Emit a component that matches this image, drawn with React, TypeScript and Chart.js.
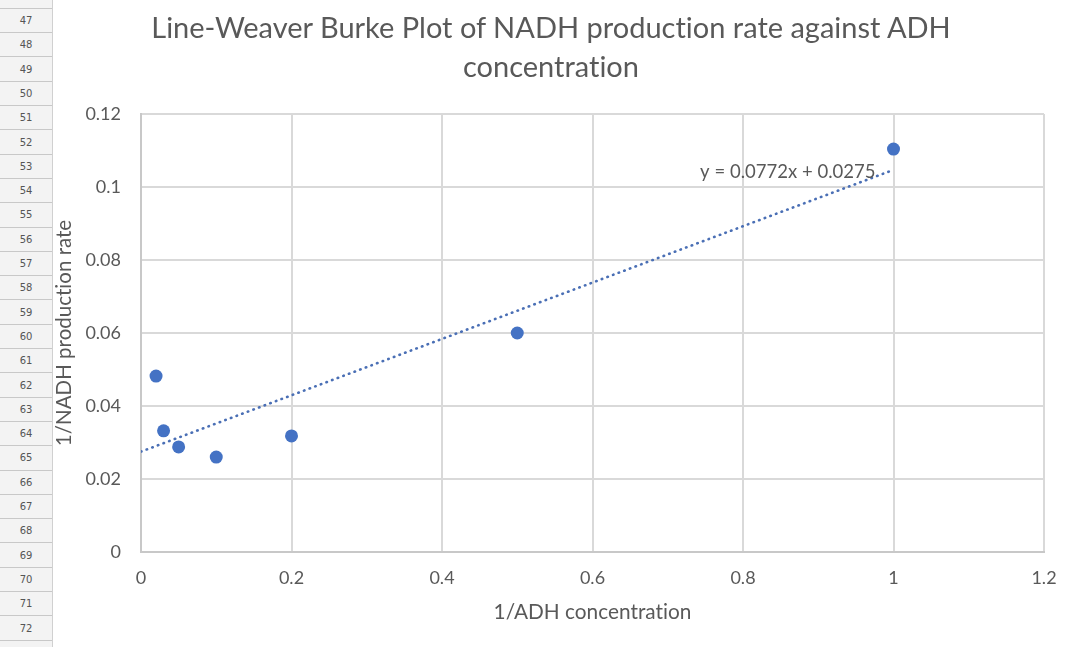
import React, { useEffect, useRef } from "react";
import { Chart, registerables } from "chart.js";

Chart.register(...registerables);

const titleLines = ["Line-Weaver Burke Plot of NADH production rate against ADH", "concentration"];
const xAxisTitle = "1/ADH concentration";
const yAxisTitle = "1/NADH production rate";

const adhInverse = [0.02, 0.03, 0.05, 0.1, 0.2, 0.5, 1];
const nadhInverse = [0.0482, 0.0332, 0.0288, 0.026, 0.0318, 0.06, 0.1104];

const trendSlope = 0.0772;
const trendIntercept = 0.0275;
const trendRange = [0, 1];
const trendLabel = "y = 0.0772x + 0.0275";

const xTickValues = [0, 0.2, 0.4, 0.6, 0.8, 1, 1.2];
const yTickValues = [0, 0.02, 0.04, 0.06, 0.08, 0.1, 0.12];

const rowNumbers = [46, 47, 48, 49, 50, 51, 52, 53, 54, 55, 56, 57, 58, 59, 60, 61, 62, 63, 64, 65, 66, 67, 68, 69, 70, 71, 72, 73];

const FONT = "Lato, 'Open Sans', sans-serif";
const TEXT = "#595959";
const GRID = "#d9d9d9";

const noLigaturePlugin = {
  id: "noLigature",
  beforeDraw(chart: any) {
    (chart.ctx as any).letterSpacing = "0.01px";
  },
};

const trendLabelPlugin = {
  id: "trendLabel",
  afterDatasetsDraw(chart: any) {
    const { ctx, scales } = chart;
    const xEnd = trendRange[1];
    const px = scales.x.getPixelForValue(xEnd);
    const py = scales.y.getPixelForValue(trendSlope * xEnd + trendIntercept);
    ctx.save();
    ctx.font = `18.5px ${FONT}`;
    ctx.fillStyle = TEXT;
    ctx.textAlign = "right";
    ctx.textBaseline = "middle";
    ctx.fillText(trendLabel, px - 18, py + 2);
    ctx.restore();
  },
};

export default function App() {
  const canvasRef = useRef<HTMLCanvasElement | null>(null);

  useEffect(() => {
    document.body.style.margin = "0";
    const canvas = canvasRef.current;
    if (!canvas) return;
    const chart = new Chart(canvas, {
      type: "scatter",
      data: {
        datasets: [
          {
            label: "Data",
            data: adhInverse.map((x, i) => ({ x, y: nadhInverse[i] })),
            backgroundColor: "#4472C4",
            borderColor: "#4472C4",
            pointRadius: 6.5,
            pointBorderWidth: 0,
            showLine: false,
            order: 1,
          },
          {
            label: "Trend",
            type: "line",
            data: trendRange.map((x) => ({ x, y: trendSlope * x + trendIntercept })),
            borderColor: "#4a6fb5",
            borderWidth: 2.6,
            borderDash: [0.5, 5.5],
            borderCapStyle: "round",
            pointRadius: 0,
            fill: false,
            order: 2,
          } as any,
        ],
      },
      options: {
        animation: false,
        responsive: false,
        maintainAspectRatio: false,
        layout: { padding: { top: 114, right: 36, bottom: 0, left: 0 } },
        plugins: {
          legend: { display: false },
          tooltip: { enabled: false },
          title: { display: false },
        },
        scales: {
          x: {
            type: "linear",
            min: 0,
            max: 1.2,
            afterBuildTicks: (scale: any) => {
              scale.ticks = xTickValues.map((v) => ({ value: v }));
            },
            afterFit: (scale: any) => {
              scale.height = 95;
            },
            ticks: {
              color: TEXT,
              font: { family: FONT, size: 18 },
              padding: 15,
              callback: (v: any) => String(Math.round(Number(v) * 10) / 10),
            },
            grid: { color: GRID, lineWidth: 2, drawTicks: false },
            border: { color: "#c8c8c8", width: 2 },
            title: {
              display: true,
              text: xAxisTitle,
              color: TEXT,
              font: { family: FONT, size: 20.8 },
              padding: { top: 8, bottom: 22 },
            },
          },
          y: {
            type: "linear",
            min: 0,
            max: 0.12,
            afterBuildTicks: (scale: any) => {
              scale.ticks = yTickValues.map((v) => ({ value: v }));
            },
            afterFit: (scale: any) => {
              scale.width = 89;
            },
            ticks: {
              color: TEXT,
              font: { family: FONT, size: 18 },
              padding: 20,
              callback: (v: any) => String(Math.round(Number(v) * 100) / 100),
            },
            grid: { color: GRID, lineWidth: 2, drawTicks: false },
            border: { color: "#c8c8c8", width: 2 },
            title: {
              display: true,
              text: yAxisTitle,
              color: TEXT,
              font: { family: FONT, size: 20.5 },
              padding: { top: 0, bottom: 0 },
            },
          },
        },
      },
      plugins: [noLigaturePlugin, trendLabelPlugin],
    } as any);
    return () => chart.destroy();
  }, []);

  return (
    <div style={{ position: "relative", width: 1080, height: 647, background: "#ffffff", overflow: "hidden" }}>
      <div style={{ position: "absolute", left: 0, top: 0, width: 52, height: 647, background: "#f3f3f3", borderRight: "1px solid #d0d0d0" }}>
        {rowNumbers.map((n, i) => (
          <div
            key={n}
            style={{
              position: "absolute",
              left: 0,
              width: 52,
              top: -15.4 + i * 24.3,
              height: 24.3,
              boxSizing: "border-box",
              borderBottom: "1px solid #c8c8c8",
              display: "flex",
              alignItems: "center",
              justifyContent: "center",
              font: "10px 'DejaVu Sans', sans-serif",
              color: "#555",
            }}
          >
            {n}
          </div>
        ))}
      </div>
      <canvas ref={canvasRef} width={1028} height={647} style={{ position: "absolute", left: 52, top: 0, width: 1028, height: 647 }} />
      <div
        style={{
          position: "absolute",
          left: 52,
          width: 998,
          top: 7,
          textAlign: "center",
          font: `29px ${FONT}`,
          fontVariantLigatures: "none",
          lineHeight: "39px",
          color: TEXT,
        }}
      >
        {titleLines.map((t, i) => (
          <div key={i}>{t}</div>
        ))}
      </div>
    </div>
  );
}
